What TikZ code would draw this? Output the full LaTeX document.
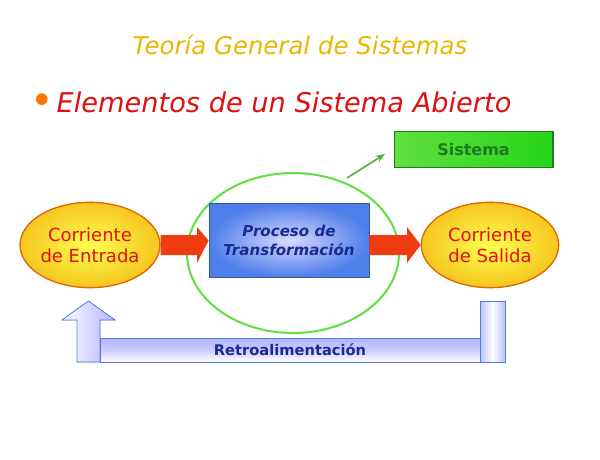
\documentclass[tikz,border=0pt]{standalone}
\usepackage{fontspec}
\setmainfont{DejaVu Sans}
\usetikzlibrary{shapes.geometric,arrows.meta}
\definecolor{titleY}{HTML}{E8B800}
\definecolor{redT}{HTML}{E01010}
\definecolor{ellO}{HTML}{F6C620}
\definecolor{ellB}{HTML}{D96A00}
\definecolor{arrR}{HTML}{F03A10}
\definecolor{boxB}{HTML}{4F7FEA}
\definecolor{txtB}{HTML}{1A2A90}
\definecolor{grn}{HTML}{60E040}
\definecolor{dgrn}{HTML}{1E7A1E}
\tikzset{
  stream/.style={ellipse, draw=ellB, line width=1pt, inner color=yellow!70!white, outer color=ellO, text=redT, font=\fontsize{13.5}{16}\selectfont, align=center, minimum width=103pt, minimum height=64pt, inner sep=0pt},
  fatarrow/.style={fill=arrR, draw=none},
  fbbar/.style={draw=boxB, line width=0.6pt}
}
\begin{document}
\begin{tikzpicture}[x=0.75pt,y=-0.75pt]
\useasboundingbox (0,0) rectangle (600,460);
\fill[white] (0,0) rectangle (600,460);
\node (title) at (300,45) {\fontsize{18.3}{21}\selectfont\itshape\color{titleY} Teoría General de Sistemas};
\node (bullet) at (42,104) {\fontsize{30}{30}\selectfont\color{orange!90!red}•};
\node[anchor=west] (sub) at (52,102) {\fontsize{20.4}{24}\selectfont\itshape\color{redT} Elementos de un Sistema Abierto};
\node[draw=dgrn, line width=1pt, left color=grn, right color=green!80!black!60!grn, minimum width=119pt, minimum height=27pt, text=dgrn, font=\bfseries\fontsize{12}{14}\selectfont] (sis) at (473.5,149.5) {Sistema};
\node[ellipse, draw=grn, line width=1.5pt, minimum width=159pt, minimum height=120pt] (sysell) at (293,253) {};
\coordinate (gs) at (347,178);
\coordinate (ge) at (385,154);
\draw[grn!80!black, line width=1.2pt, -{Stealth[length=7pt]}] (gs) -- (ge);
\node[stream] (in) at (90,245) {Corriente\\de Entrada};
\node[stream] (out) at (490,245) {Corriente\\de Salida};
\node[draw=boxB!70!black, line width=0.6pt, inner color=blue!15!white, outer color=boxB, minimum width=120pt, minimum height=55pt, text=txtB, font=\bfseries\itshape\fontsize{11.3}{14}\selectfont, align=center] (proc) at (289,240.5) {Proceso de\\Transformación};
% red arrows
\fill[fatarrow] (in.east |- 0,235) -- (197,235) -- (197,227) -- (proc.west) -- (197,263) -- (197,255) -- (in.east |- 0,255) -- cycle;
\fill[fatarrow] (proc.east |- 0,235) -- (407,235) -- (407,227) -- (out.west) -- (407,263) -- (407,255) -- (proc.east |- 0,255) -- cycle;
% feedback
\node[fbbar, top color=blue!30, bottom color=white, middle color=white!80!blue, minimum width=285pt, minimum height=18pt, inner sep=0pt, text=txtB, font=\bfseries\fontsize{11}{13}\selectfont] (fb) at (290,350) {Retroalimentación};
\filldraw[fbbar, left color=blue!25, right color=blue!25, middle color=white] (480,301) rectangle (505,362);
\filldraw[draw=boxB, line width=0.6pt, left color=white, right color=blue!30] (77,362) -- (77,320) -- (62,320) -- (88.5,301) -- (115,320) -- (100,320) -- (100,362) -- cycle;
\end{tikzpicture}
\end{document}
